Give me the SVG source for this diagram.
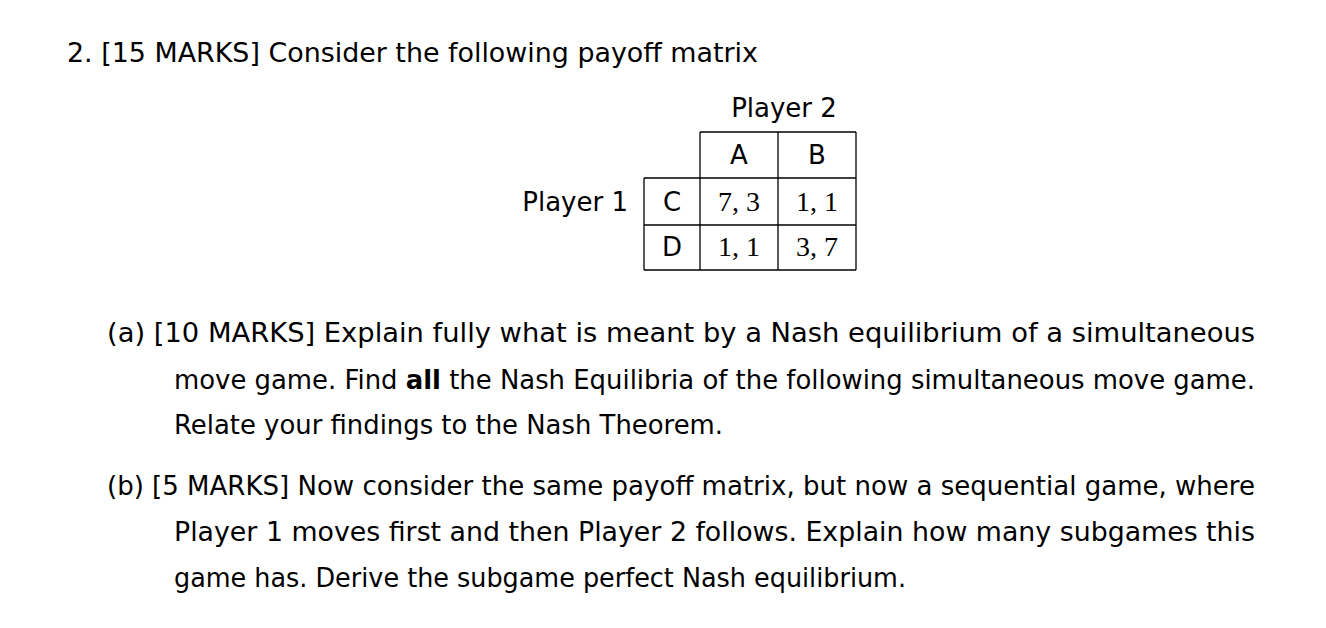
<svg xmlns="http://www.w3.org/2000/svg" width="1326" height="628" viewBox="0 0 1326 628">
<style>
text{font-family:"DejaVu Sans","Liberation Sans",sans-serif;font-size:26px;fill:#000}
.m{font-family:"Liberation Serif",serif;font-size:28px}
line{stroke:#000;stroke-width:1.3}
</style>
<rect width="1326" height="628" fill="#fff"/>
<text x="67" y="62" textLength="691" lengthAdjust="spacingAndGlyphs">2. [15 MARKS] Consider the following payoff matrix</text>
<g id="table">
<text x="784" y="117" text-anchor="middle">Player 2</text>
<text x="628" y="211" text-anchor="end">Player 1</text>
<line x1="700" y1="132" x2="856" y2="132"/>
<line x1="644" y1="178" x2="856" y2="178"/>
<line x1="644" y1="225" x2="856" y2="225"/>
<line x1="644" y1="270" x2="856" y2="270"/>
<line x1="644" y1="178" x2="644" y2="270"/>
<line x1="700" y1="132" x2="700" y2="270"/>
<line x1="778" y1="132" x2="778" y2="270"/>
<line x1="856" y1="132" x2="856" y2="270"/>
<text x="739" y="164" text-anchor="middle">A</text>
<text x="817" y="164" text-anchor="middle">B</text>
<text x="672" y="211" text-anchor="middle">C</text>
<text x="672" y="256" text-anchor="middle">D</text>
<text class="m" x="739" y="211" text-anchor="middle">7, 3</text>
<text class="m" x="817" y="211" text-anchor="middle">1, 1</text>
<text class="m" x="739" y="256" text-anchor="middle">1, 1</text>
<text class="m" x="817" y="256" text-anchor="middle">3, 7</text>
</g>
<text x="107" y="342" textLength="1148" lengthAdjust="spacingAndGlyphs">(a) [10 MARKS] Explain fully what is meant by a Nash equilibrium of a simultaneous</text>
<text x="174" y="389" textLength="1081" lengthAdjust="spacingAndGlyphs">move game. Find <tspan font-weight="bold">all</tspan> the Nash Equilibria of the following simultaneous move game.</text>
<text x="174" y="434" textLength="549" lengthAdjust="spacingAndGlyphs">Relate your findings to the Nash Theorem.</text>
<text x="107" y="495" textLength="1148" lengthAdjust="spacingAndGlyphs">(b) [5 MARKS] Now consider the same payoff matrix, but now a sequential game, where</text>
<text x="174" y="541" textLength="1081" lengthAdjust="spacingAndGlyphs">Player 1 moves first and then Player 2 follows. Explain how many subgames this</text>
<text x="174" y="587" textLength="732" lengthAdjust="spacingAndGlyphs">game has. Derive the subgame perfect Nash equilibrium.</text>
</svg>
